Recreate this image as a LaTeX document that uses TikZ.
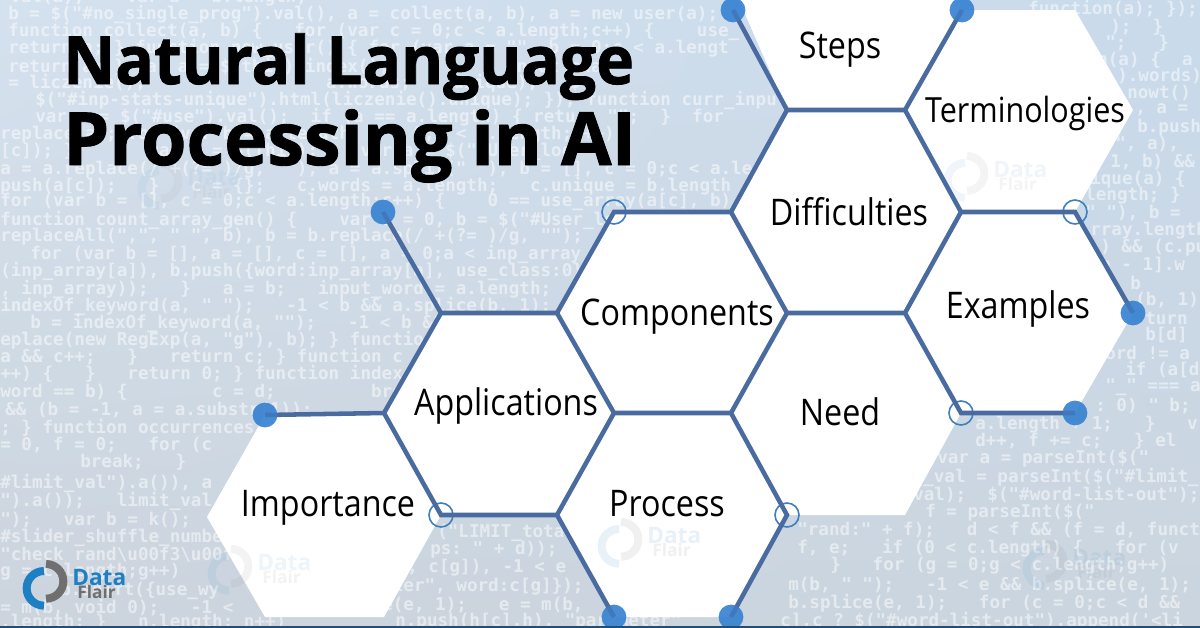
\documentclass[tikz,border=0pt]{standalone}
\usepackage{xcolor}
\usepackage{fontspec}
\setmainfont{Open Sans}[FakeStretch=0.88]
\newfontfamily\codeFont{DejaVu Sans Mono}
\newfontfamily\logoFont{Open Sans}
\newfontfamily\titleOneFont{Open Sans}[FakeStretch=0.96,FakeBold=1.2]
\newfontfamily\titleTwoFont{Open Sans}[FakeStretch=1.0,FakeBold=1.2]
\definecolor{bgUL}{HTML}{D4E1EE}
\definecolor{bgUR}{HTML}{C9DAEB}
\definecolor{bgLL}{HTML}{CCD4DD}
\definecolor{bgLR}{HTML}{CBD5DF}
\definecolor{hexBlue}{HTML}{4A6BA0}
\definecolor{dotBlue}{HTML}{3A84D2}
\definecolor{ringBlue}{HTML}{3F7FBF}
\definecolor{barBlue}{HTML}{1F4E79}
\definecolor{logoBlue}{HTML}{1E7FC2}
\definecolor{logoGrey}{HTML}{6F6F6F}
\usetikzlibrary{positioning,calc,shadings}
\tikzset{%
  codeText/.style={%
    anchor=west,
    inner sep=0pt,
    text=white,
    text opacity=0.5,
    font=\codeFont\bfseries\fontsize{13.2}{14}\selectfont
  },
  hexFill/.style={%
    fill=white
  },
  hexLine/.style={%
    draw=hexBlue,
    line width=3.4pt,
    line join=miter
  },
  dotFull/.style={%
    circle,
    fill=dotBlue,
    fill opacity=0.85,
    minimum size=18.5pt,
    inner sep=0pt
  },
  dotRing/.style={%
    circle,
    draw=ringBlue,
    line width=1.2pt,
    minimum size=18pt,
    inner sep=0pt
  },
  hexLabel/.style={%
    anchor=base,
    inner sep=0pt,
    text=black,
    font=\fontsize{27.5}{30}\selectfont
  },
  titleText/.style={%
    anchor=base west,
    inner sep=0pt,
    text=black
  }
}
\newcounter{codeNo}
\newcommand{\codeLine}[3]{\stepcounter{codeNo}\node[codeText] (code\arabic{codeNo}) at (#2,#1) {#3};}
% logo, #3 is the opacity, #4 starts the node names
\newcommand{\dataLogo}[4]{%
  \begin{scope}[shift={(#1,#2)},opacity=#3]
    \draw[logoBlue,line width=6pt] (44,571) arc[start angle=90,end angle=270,radius=13pt];
    \draw[logoGrey,line width=6pt] (46,564) arc[start angle=90,end angle=-90,radius=13pt];
    \node[anchor=base west,inner sep=0pt,text=logoBlue,font=\logoFont\bfseries\fontsize{17}{20}\selectfont] (#4Data) at (72,585) {Data};
    \node[anchor=base west,inner sep=0pt,text=logoGrey,font=\logoFont\bfseries\fontsize{13}{14}\selectfont] (#4Flair) at (77,598) {Flair};
  \end{scope}
}

\begin{document}
\begin{tikzpicture}[x=0.75pt,y=-0.75pt]
  \path[use as bounding box,clip] (0,0) rectangle (1200,628);
  \shade[upper left=bgUL,upper right=bgUR,lower left=bgLL,lower right=bgLR] (0,0) rectangle (1200,628);

  % code in the background
  \codeLine{-2}{10}{val(a);~~~~var~a~=~b.length;}
  \codeLine{14}{8}{b~=~\$("\#no\_single\_prog").val(),~a~=~collect(a,~b),~a~=~new~user(a);}
  \codeLine{31}{8}{function~collect(a,~b)~\{~~~for~(var~c~=~0;c~<~a.length;c++)~\{~~~~use\_}
  \codeLine{48}{8}{return~a;~\}~function~new\_user()~\{~for~(var~a~=~"",~b~=~0;c~<~a.lengt}
  \codeLine{67}{8}{return~a;~\}~var~a~=~\$(this).index();~~~~~~~~~~~input~chan}
  \codeLine{83}{8}{=~liczenie();~~~~~~~~~~~~~~~~~a.words;~~~.unique);~~~\$}
  \codeLine{100}{35}{\$("\#inp-stats-unique").html(liczenie().unique);~\});~function~curr\_input}
  \codeLine{117}{35}{var~a~=~\$("\#use").val();~~if~(a~==~a.length)~\{~return~"";~~\}~~for}
  \codeLine{135}{0}{replace(a);~for~(var~b~=~a.length,~c~=~0;c~<~a.length;c++)}
  \codeLine{151}{0}{[c]);~\}~~~~~~~var~a~=~\$(this);~~~(var~a~=~\$("\#User\_log}
  \codeLine{169}{0}{a~=~a.replace(/~+(?=~)/g,~""),~a~=~a.split("~"),~b~=~[],~c~=~0;c~<~a.len}
  \codeLine{186}{0}{push(a[c]);~~~\}~~~c~=~\{\};~~~c.words~=~a.length;~~~c.unique~=~b.length}
  \codeLine{202}{0}{for~(var~b~=~[],~c~=~0;c~<~a.length;c++)~\{~~~~0~==~use\_array(a[c],~b)}
  \codeLine{220}{0}{function~count\_array\_gen()~\{~~~~var~a~=~0,~b~=~\$("\#User\_lo}
  \codeLine{237}{0}{replaceAll(",",~"~",~b),~b~=~b.replace(/~+(?=~)/g,~"");}
  \codeLine{254}{30}{for~(var~b~=~[],~a~=~[],~c~=~[],~a~=~0;a~<~inp\_array}
  \codeLine{271}{0}{(inp\_array[a]),~b.push(\{word:inp\_array[a],~use\_class:0\}}
  \codeLine{289}{0}{,~inp\_array));~~~\}~~~a~=~b;~~~input\_word~=~a.length;}
  \codeLine{306}{0}{indexOf\_keyword(a,~"~");~~~-1~<~b~\&\&~a.splice(b,~1);}
  \codeLine{323}{30}{b~=~indexOf\_keyword(a,~"");~~~-1~<~b~\&\&}
  \codeLine{340}{0}{eplace(new~RegExp(a,~"g"),~b);~\}~function}
  \codeLine{357}{0}{a~\&\&~c++;~~~\}~~~return~c;~\}~function~c}
  \codeLine{374}{0}{++)~\{~~~\}~~~return~0;~\}~function~index}
  \codeLine{392}{0}{word~==~b)~\{~~~~~~~~c~=~d;~~~~~~~~~break}
  \codeLine{410}{5}{\&\&~(b~=~-1,~a~=~a.substr(1));}
  \codeLine{428}{0}{;~\}~function~occurrences}
  \codeLine{445}{0}{=~0,~f~=~0;~~~for~(c}
  \codeLine{462}{80}{break;~~~\}}
  \codeLine{483}{0}{\#limit\_val").a()),~a}
  \codeLine{501}{0}{").a());~~~limit\_val}
  \codeLine{520}{0}{");~~~var~b~=~k();}
  \codeLine{537}{0}{\#slider\_shuffle\_number}
  \codeLine{555}{0}{"check~rand\textbackslash u00f3\textbackslash u00f}
  \codeLine{572}{0}{g~=~c.length;g++)}
  \codeLine{590}{60}{b.shift(\{use\_wy}
  \codeLine{608}{0}{=~m(b,~void~0);~~~-1~<}
  \codeLine{623}{0}{.length;~\}~~~n.length;~n++)}

  \codeLine{533}{437}{("LIMIT\_tota}
  \codeLine{550}{430}{ps:~"~+~d));}
  \codeLine{568}{407}{,~c[g]),~-1~<~e}
  \codeLine{587}{382}{eter",~word:c[g]\});}
  \codeLine{605}{382}{e(e,~1);~~~e~=~m(b,}
  \codeLine{622}{395}{n.push(h[c].h),~"parameter"}

  \codeLine{9}{1028}{function(a);~\});}
  \codeLine{27}{1110}{);~~\}}
  \codeLine{43}{1105}{";~~~\}}
  \codeLine{60}{1097}{n(a)~\{~~a}
  \codeLine{76}{1117}{).words);}
  \codeLine{93}{1127}{nowt()}
  \codeLine{110}{1135}{,~a~=}
  \codeLine{128}{1137}{b.push}
  \codeLine{144}{1115}{",~a),}
  \codeLine{162}{1110}{1,~b)~\&\&}
  \codeLine{179}{1090}{ique(a)~\{}
  \codeLine{196}{1085}{length;~\}}
  \codeLine{213}{1085}{"~"),~b~=}
  \codeLine{231}{1090}{rray.length}
  \codeLine{248}{1100}{)~\&\&~(c.pu}
  \codeLine{265}{1100}{h~-~1].w}
  \codeLine{283}{1130}{b}
  \codeLine{300}{1135}{(b,~1)}
  \codeLine{318}{1145}{turn}
  \codeLine{335}{1145}{b[d]}
  \codeLine{353}{1105}{ord~!=~a}
  \codeLine{370}{1125}{if~(a[d}
  \codeLine{387}{1105}{"\_"~===~a}
  \codeLine{406}{1095}{:~0)~"~b;}
  \codeLine{425}{975}{a.length~+~1;~~~\}~~~v}
  \codeLine{441}{975}{d++,~f~+=~c;~~~\}~el}
  \codeLine{459}{937}{var~a~=~parseInt(\$("}
  \codeLine{477}{923}{\_val~=~parseInt(\$("\#limit\_}
  \codeLine{495}{913}{val);~~\$("\#word-list-out");}
  \codeLine{513}{925}{f~=~parseInt(\$("}
  \codeLine{530}{797}{"rand:"~+~f);~~~d~<~f~\&\&~(f~=~d,~funct}
  \codeLine{548}{797}{f,~e;~~~if~(0~<~c.length)~\{~~~for~(v}
  \codeLine{566}{830}{\}~~~for~(g~=~0;g~<~c.length;g++)}
  \codeLine{585}{788}{m(b,~"~");~~~-1~<~e~\&\&~b.splice(e,~1);}
  \codeLine{603}{788}{b.splice(e,~1);~~~for~(c~=~0;c~<~d~\&\&}
  \codeLine{621}{780}{c].c~?~\$("\#word-list-out").append('<li}

  % corners of the hexagons
  \coordinate (sL) at (733,10);    \coordinate (sR) at (962,10);
  \coordinate (tR) at (1075,10);   \coordinate (tE) at (1133,110);
  \coordinate (dTL) at (787,110);  \coordinate (dTR) at (905,110);
  \coordinate (dL) at (731,212);   \coordinate (dR) at (961,212);
  \coordinate (xR) at (1075,212);  \coordinate (cTL) at (614,212);
  \coordinate (dBL) at (787,313);  \coordinate (dBR) at (905,313);
  \coordinate (xE) at (1133,313);  \coordinate (aTL) at (441,313);
  \coordinate (aTR) at (557,313);  \coordinate (aL) at (384,413);
  \coordinate (cBL) at (614,413);  \coordinate (cBR) at (731,413);
  \coordinate (nR) at (961,413);   \coordinate (xBR) at (1075,413);
  \coordinate (iTL) at (265,415);  \coordinate (iL) at (207,517);
  \coordinate (iR) at (441,515);   \coordinate (aBR) at (557,515);
  \coordinate (pR) at (787,515);   \coordinate (nBR) at (905,515);
  \coordinate (iBL) at (265,617);  \coordinate (iBR) at (384,617);
  \coordinate (pBL) at (614,617);  \coordinate (pBR) at (731,617);

  \fill[hexFill] (738,-2) -- (dTL) -- (dTR) -- (sR) -- (958,-2) -- cycle;
  \fill[hexFill] (dTR) -- (sR) -- (tR) -- (tE) -- (xR) -- (dR) -- cycle;
  \fill[hexFill] (dL) -- (dTL) -- (dTR) -- (dR) -- (dBR) -- (dBL) -- cycle;
  \fill[hexFill] (dBR) -- (dR) -- (xR) -- (xE) -- (xBR) -- (nR) -- cycle;
  \fill[hexFill] (cBR) -- (dBL) -- (dBR) -- (nR) -- (nBR) -- (pR) -- cycle;
  \fill[hexFill] (aTR) -- (cTL) -- (dL) -- (dBL) -- (cBR) -- (cBL) -- cycle;
  \fill[hexFill] (aL) -- (aTL) -- (aTR) -- (cBL) -- (aBR) -- (iR) -- cycle;
  \fill[hexFill] (aBR) -- (cBL) -- (cBR) -- (pR) -- (pBR) -- (pBL) -- cycle;
  \fill[hexFill] (iL) -- (iTL) -- (aL) -- (iR) -- (iBR) -- (iBL) -- cycle;

  % faint marks
  \dataLogo{921}{-408}{0.07}{markA}
  \dataLogo{575}{-42}{0.1}{markC}
  \dataLogo{185}{-15}{0.08}{markD}
  \dataLogo{1000}{-20}{0.08}{markE}
  \dataLogo{115}{-400}{0.05}{markF}

  % dots at the free ends
  \node[dotFull] (dotSL) at (sL) {};
  \node[dotFull] (dotSR) at (sR) {};
  \node[dotFull] (dotXE) at (xE) {};
  \node[dotFull] (dotXB) at (xBR) {};
  \node[dotFull] (dotAT) at (383,212) {};
  \node[dotFull] (dotIT) at (iTL) {};
  \node[dotFull] (dotPL) at (pBL) {};
  \node[dotFull] (dotPR) at (pBR) {};
  \node[dotRing] (ringC) at (cTL) {};
  \node[dotRing] (ringX) at (xR) {};
  \node[dotRing] (ringN) at (nR) {};
  \node[dotRing] (ringI) at (iR) {};
  \node[dotRing] (ringP) at (pR) {};

  \draw[hexLine] (dotSL.center) -- (dTL) -- (dTR) -- (dotSR.center);
  \draw[hexLine] (dTR) -- (dR) -- (ringX.center) -- (dotXE.center);
  \draw[hexLine] (dL) -- (dTL);
  \draw[hexLine] (dR) -- (dBR) -- (dBL) -- (dL);
  \draw[hexLine] (dBR) -- (ringN.center) -- (dotXB.center);
  \draw[hexLine] (dBL) -- (cBR) -- (cBL) -- (aTR);
  \draw[hexLine] (dL) -- (ringC.center) -- (aTR) -- (aTL) -- (dotAT.center);
  \draw[hexLine] (aTL) -- (aL) -- (ringI.center) -- (aBR) -- (cBL);
  \draw[hexLine] (aL) -- (dotIT.center);
  \draw[hexLine] (aBR) -- (dotPL.center);
  \draw[hexLine] (cBR) -- (ringP.center) -- (dotPR.center);

  % again over the lines, so that they show through
  \node[dotFull,fill opacity=0.55] (dotSLb) at (sL) {};
  \node[dotFull,fill opacity=0.55] (dotSRb) at (sR) {};
  \node[dotFull,fill opacity=0.55] (dotXEb) at (xE) {};
  \node[dotFull,fill opacity=0.55] (dotXBb) at (xBR) {};
  \node[dotFull,fill opacity=0.55] (dotATb) at (383,212) {};
  \node[dotFull,fill opacity=0.55] (dotITb) at (iTL) {};
  \node[dotFull,fill opacity=0.55] (dotPLb) at (pBL) {};
  \node[dotFull,fill opacity=0.55] (dotPRb) at (pBR) {};

  % labels
  \node[hexLabel] (lblSteps) at (840,58) {Steps};
  \node[hexLabel,font=\fontsize{26}{30}\selectfont] (lblTerm) at (1025,122) {Terminologies};
  \node[hexLabel] (lblDiff) at (849,225) {Difficulties};
  \node[hexLabel] (lblExam) at (1018,318) {Examples};
  \node[hexLabel] (lblComp) at (677,325) {Components};
  \node[hexLabel] (lblNeed) at (840,425) {Need};
  \node[hexLabel] (lblAppl) at (506,415) {Applications};
  \node[hexLabel] (lblProc) at (667,516) {Process};
  \node[hexLabel] (lblImp) at (328,516) {Importance};

  % title
  \node[titleText,font=\titleOneFont\bfseries\fontsize{50}{54}\selectfont] (titleOne) at (63,84) {Natural Language};
  \node[titleText,font=\titleTwoFont\bfseries\fontsize{55}{58}\selectfont] (titleTwo) at (63,165) {Processing in AI};

  \dataLogo{0}{0}{1}{main}
  \fill[barBlue] (0,626) rectangle (1200,628);
\end{tikzpicture}
\end{document}
